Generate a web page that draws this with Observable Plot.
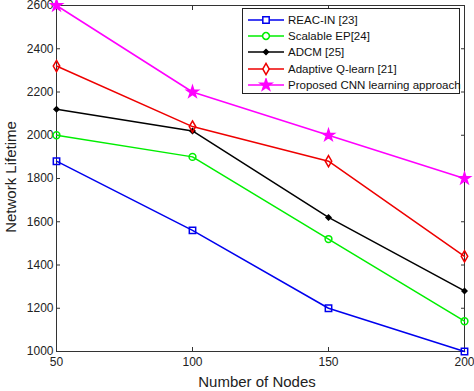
<!DOCTYPE html>
<html>
<head>
<meta charset="utf-8">
<script src="https://cdn.jsdelivr.net/npm/d3@7"></script>
<script src="https://cdn.jsdelivr.net/npm/@observablehq/plot@0.6"></script>
<style>
  body { margin: 0; background: #fff; }
  #wrap { position: relative; width: 474px; height: 391px; font-family: Arial, "Liberation Sans", sans-serif; }
  #legend { position: absolute; left: 242px; top: 8px; width: 218px; height: 86px; border: 1px solid #222; background: #fff; box-sizing: border-box; padding-top: 3px; }
  .row { display: flex; align-items: center; height: 16.2px; font-size: 11.5px; color: #111; white-space: nowrap; }
  .row svg { margin-left: 5px; margin-right: 4px; flex: none; }
</style>
</head>
<body>
<div id="wrap"></div>
<script>
const nodes = [50, 100, 150, 200];
const seriesNames = ["REAC-IN [23]", "Scalable EP[24]", "ADCM [25]", "Adaptive Q-learn [21]", "Proposed CNN learning approach"];
const reacIn   = [1880, 1560, 1200, 1000];
const scalable = [2000, 1900, 1520, 1140];
const adcm     = [2120, 2020, 1620, 1280];
const adaptQ   = [2320, 2040, 1880, 1440];
const proposed = [2600, 2200, 2000, 1800];
const yTicks = [1000, 1200, 1400, 1600, 1800, 2000, 2200, 2400, 2600];

const colors  = ["#0000ee", "#00ee00", "#000000", "#ee0000", "#ff00ff"];
const symbols = ["square", "circle", "diamond2", "diamond", "star"];
const fills   = ["none", "none", "#000", "none", "#ff00ff"];
const sizes   = [3.6, 3.4, 2.2, 3.4, 3.6];

const values = [reacIn, scalable, adcm, adaptQ, proposed];
const data = [];
values.forEach((vals, si) => vals.forEach((v, i) => data.push({series: seriesNames[si], x: nodes[i], y: v, si})));

const marks = [
  Plot.frame({stroke: "#333", strokeWidth: 1}),
  Plot.axisX(nodes, {anchor: "bottom", tickSize: 0, tickPadding: 6, fontSize: 12, label: null, tickFormat: "d"}),
  Plot.axisX(nodes, {anchor: "bottom", tickSize: -4, text: null, label: null, stroke: "#333"}),
  Plot.axisX(nodes, {anchor: "top", tickSize: -4, text: null, label: null, stroke: "#333"}),
  Plot.axisY(yTicks, {anchor: "left", tickSize: 0, tickPadding: 3, fontSize: 12, label: null, tickFormat: "d"}),
  Plot.axisY(yTicks, {anchor: "left", tickSize: -4, text: null, label: null, stroke: "#333"}),
  Plot.axisY(yTicks, {anchor: "right", tickSize: -4, text: null, label: null, stroke: "#333"})
];
seriesNames.forEach((name, si) => {
  const d = data.filter(r => r.si === si);
  marks.push(Plot.line(d, {x: "x", y: "y", stroke: colors[si], strokeWidth: 1.5}));
  marks.push(Plot.dot(d, {x: "x", y: "y", symbol: symbols[si], r: sizes[si], stroke: colors[si], strokeWidth: 1.5, fill: fills[si]}));
});

const chart = Plot.plot({
  width: 474,
  height: 391,
  marginLeft: 56,
  marginRight: 10,
  marginTop: 5,
  marginBottom: 40,
  style: {fontFamily: "Arial, 'Liberation Sans', sans-serif", color: "#222", background: "#fff", overflow: "visible"},
  x: {domain: [50, 200], label: null},
  y: {domain: [1000, 2600], label: null},
  marks
});
const wrap = document.getElementById("wrap");
wrap.appendChild(chart);

const svg = d3.select(chart);
svg.append("text").attr("x", 257).attr("y", 387).attr("text-anchor", "middle")
  .attr("font-size", 15).attr("fill", "#222").text("Number of Nodes");
svg.append("text").attr("transform", "translate(16,177) rotate(-90)").attr("text-anchor", "middle")
  .attr("font-size", 15).attr("fill", "#222").text("Network Lifetime");

const legend = document.createElement("div");
legend.id = "legend";
const symMap = {square: d3.symbolSquare, circle: d3.symbolCircle, diamond: d3.symbolDiamond, diamond2: d3.symbolDiamond2, star: d3.symbolStar};
seriesNames.forEach((name, si) => {
  const row = document.createElement("div");
  row.className = "row";
  const s = d3.create("svg").attr("width", 36).attr("height", 14);
  s.append("line").attr("x1", 0).attr("x2", 36).attr("y1", 7).attr("y2", 7).attr("stroke", colors[si]).attr("stroke-width", 1.5);
  const area = Math.PI * sizes[si] * sizes[si];
  s.append("path").attr("transform", "translate(18,7)").attr("d", d3.symbol(symMap[symbols[si]], area)())
    .attr("stroke", colors[si]).attr("stroke-width", 1.5).attr("fill", fills[si] === "none" ? "#fff" : fills[si]);
  row.appendChild(s.node());
  const t = document.createElement("span");
  t.textContent = name;
  row.appendChild(t);
  legend.appendChild(row);
});
wrap.appendChild(legend);
</script>
</body>
</html>
